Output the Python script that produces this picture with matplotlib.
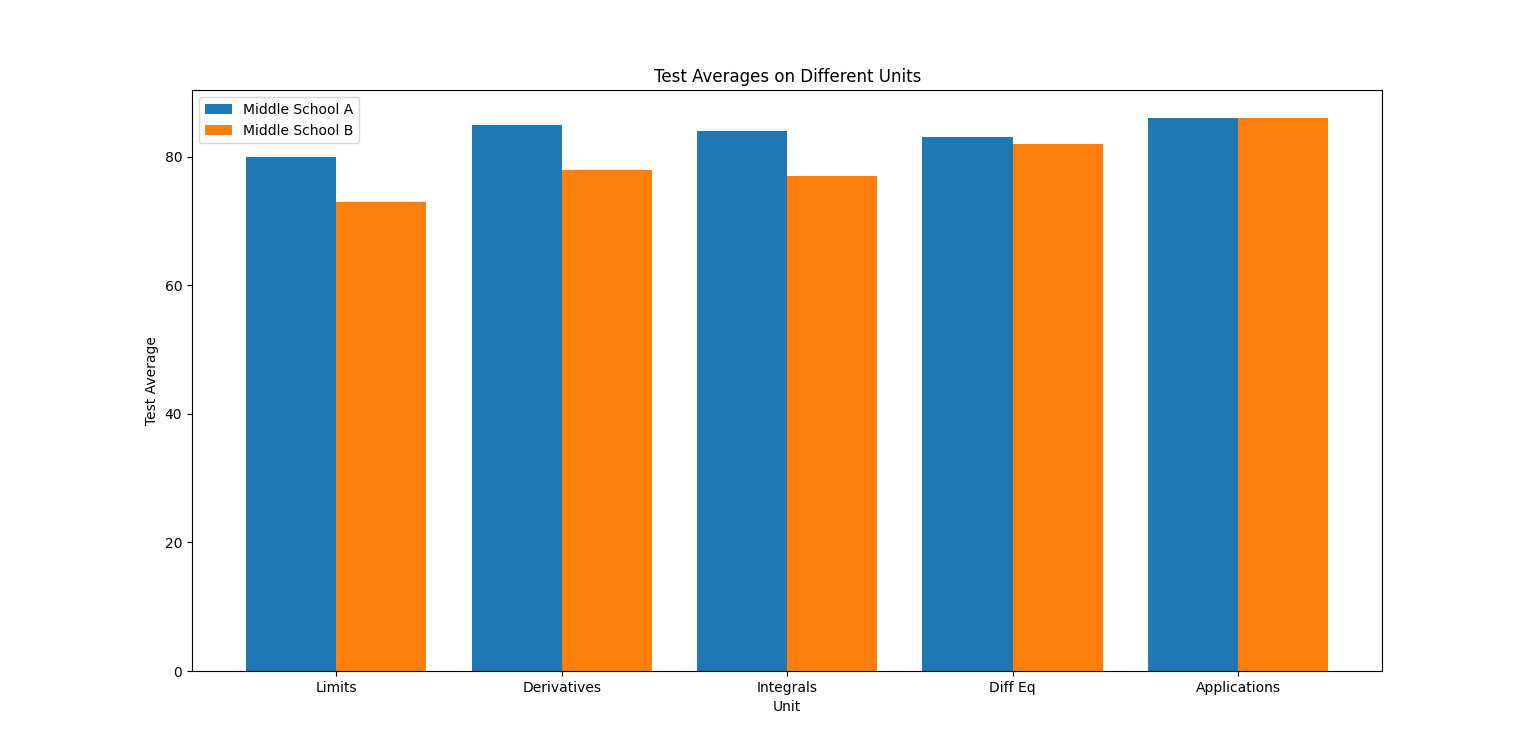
import matplotlib
matplotlib.use("Agg")
import matplotlib.pyplot as plt
import numpy as np

units = ["Limits", "Derivatives", "Integrals", "Diff Eq", "Applications"]
school_a = [80, 85, 84, 83, 86]
school_b = [73, 78, 77, 82, 86]

fig, ax = plt.subplots(figsize=(15.36, 7.54), dpi=100)
x = np.arange(len(units))
w = 0.4
ax.bar(x - w / 2, school_a, w, label="Middle School A")
ax.bar(x + w / 2, school_b, w, label="Middle School B")
ax.set_xticks(x)
ax.set_xticklabels(units)
ax.set_xlabel("Unit")
ax.set_ylabel("Test Average")
ax.set_title("Test Averages on Different Units")
ax.legend(loc="upper left")
fig.savefig("out.png", dpi=100)
